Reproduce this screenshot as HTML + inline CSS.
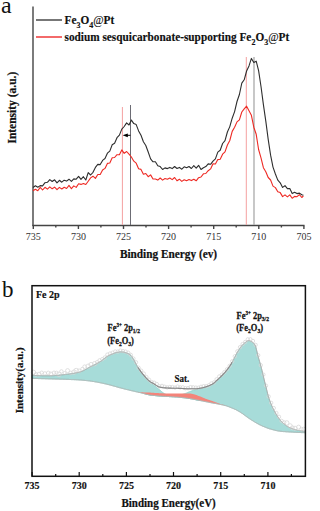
<!DOCTYPE html>
<html><head><meta charset="utf-8"><style>
html,body{margin:0;padding:0;background:#fff;}
svg{display:block;}
text{font-family:"Liberation Serif",serif;}
</style></head><body>
<svg width="312" height="511" viewBox="0 0 312 511">
<text x="1" y="12.5" font-size="24" fill="#111">a</text>
<text x="2" y="297" font-size="23" fill="#111">b</text>
<!-- panel a -->
<g stroke="#444" stroke-width="1.4" fill="none">
<line x1="33" y1="6.5" x2="33" y2="226"/>
<line x1="32.5" y1="225.5" x2="304.5" y2="225.5"/>
<line x1="33.3" y1="225.5" x2="33.3" y2="229" /><line x1="55.8" y1="225.5" x2="55.8" y2="227.5" /><line x1="78.4" y1="225.5" x2="78.4" y2="229" /><line x1="100.9" y1="225.5" x2="100.9" y2="227.5" /><line x1="123.5" y1="225.5" x2="123.5" y2="229" /><line x1="146.0" y1="225.5" x2="146.0" y2="227.5" /><line x1="168.6" y1="225.5" x2="168.6" y2="229" /><line x1="191.1" y1="225.5" x2="191.1" y2="227.5" /><line x1="213.7" y1="225.5" x2="213.7" y2="229" /><line x1="236.2" y1="225.5" x2="236.2" y2="227.5" /><line x1="258.8" y1="225.5" x2="258.8" y2="229" /><line x1="281.4" y1="225.5" x2="281.4" y2="227.5" /><line x1="303.9" y1="225.5" x2="303.9" y2="229" />
</g>
<g font-size="10" fill="#333" text-anchor="middle"><text x="33.3" y="240">735</text><text x="78.4" y="240">730</text><text x="123.5" y="240">725</text><text x="168.6" y="240">720</text><text x="213.7" y="240">715</text><text x="258.8" y="240">710</text><text x="303.9" y="240">705</text></g>
<line x1="122.4" y1="107" x2="122.4" y2="225" stroke="#f4a0a0" stroke-width="1"/>
<line x1="130.5" y1="105" x2="130.5" y2="225" stroke="#6c6c74" stroke-width="1"/>
<line x1="246.3" y1="57" x2="246.3" y2="225" stroke="#f4a0a0" stroke-width="1"/>
<line x1="254" y1="57" x2="254" y2="225" stroke="#aaa" stroke-width="1.3"/>
<path d="M33.0,190.8 L35.4,189.2 L37.8,190.7 L40.2,187.4 L42.6,190.0 L45.0,187.3 L47.4,189.1 L49.8,186.8 L52.2,188.8 L54.6,187.1 L57.0,189.7 L59.4,187.4 L61.8,189.0 L64.2,187.3 L66.6,188.5 L69.0,185.4 L71.4,188.7 L73.8,185.9 L76.2,187.4 L78.6,183.8 L81.0,184.4 L83.4,183.5 L85.8,184.5 L88.2,181.2 L90.6,177.9 L93.0,176.2 L95.4,178.4 L97.8,174.5 L100.2,174.4 L102.6,170.0 L105.0,168.4 L107.4,163.4 L109.8,163.0 L112.2,157.8 L114.6,157.5 L117.0,154.7 L119.4,154.7 L121.8,149.9 L124.2,153.4 L126.6,151.5 L129.0,154.1 L131.4,157.0 L133.8,161.2 L136.2,163.2 L138.6,168.8 L141.0,169.4 L143.4,174.2 L145.8,173.5 L148.2,176.7 L150.6,174.9 L153.0,179.0 L155.4,179.0 L157.8,180.1 L160.2,178.0 L162.6,180.1 L165.0,178.5 L167.4,179.3 L169.8,178.0 L172.2,179.6 L174.6,177.5 L177.0,180.8 L179.4,179.2 L181.8,181.4 L184.2,179.7 L186.6,180.7 L189.0,179.5 L191.4,180.6 L193.8,179.2 L196.2,180.8 L198.6,177.7 L201.0,177.0 L203.4,173.8 L205.8,173.5 L208.2,170.7 L210.6,168.9 L213.0,163.7 L215.4,164.0 L217.8,159.6 L220.2,159.3 L222.6,154.2 L225.0,151.9 L227.4,145.0 L229.8,140.5 L232.2,131.4 L234.6,127.3 L237.0,121.9 L239.4,119.8 L241.8,112.0 L244.2,108.9 L246.6,106.2 L249.0,110.7 L251.4,115.3 L253.8,127.2 L256.2,134.3 L258.6,149.5 L261.0,157.8 L263.4,167.7 L265.8,171.7 L268.2,177.5 L270.6,180.0 L273.0,186.1 L275.4,187.6 L277.8,191.7 L280.2,192.6 L282.6,196.6 L285.0,194.9 L287.4,196.9 L289.8,194.9 L292.2,198.2 L294.6,196.4 L297.0,196.7 L299.4,194.7 L301.8,197.5 L303.4,195.8" stroke="#ee2a24" stroke-width="1.1" fill="none" stroke-linejoin="round"/>
<path d="M33.0,187.5 L35.4,185.8 L37.8,187.2 L40.2,185.6 L42.6,185.9 L45.0,182.7 L47.4,182.3 L49.8,179.6 L52.2,181.5 L54.6,179.8 L57.0,182.8 L59.4,180.3 L61.8,182.2 L64.2,180.2 L66.6,181.1 L69.0,179.2 L71.4,181.3 L73.8,178.9 L76.2,179.2 L78.6,176.4 L81.0,179.4 L83.4,176.7 L85.8,180.0 L88.2,172.6 L90.6,175.0 L93.0,172.3 L95.4,167.4 L97.8,164.4 L100.2,164.6 L102.6,160.4 L105.0,158.5 L107.4,153.2 L109.8,151.1 L112.2,144.7 L114.6,143.3 L117.0,137.7 L119.4,135.1 L121.8,129.1 L124.2,126.5 L126.6,122.9 L129.0,125.0 L131.4,120.1 L133.8,123.6 L136.2,124.6 L138.6,130.9 L141.0,135.3 L143.4,141.7 L145.8,145.5 L148.2,152.0 L150.6,158.9 L153.0,161.8 L155.4,161.7 L157.8,165.7 L160.2,166.6 L162.6,169.5 L165.0,167.9 L167.4,168.6 L169.8,167.4 L172.2,168.6 L174.6,166.5 L177.0,168.5 L179.4,167.4 L181.8,169.2 L184.2,166.8 L186.6,167.8 L189.0,166.5 L191.4,168.5 L193.8,165.7 L196.2,168.1 L198.6,165.3 L201.0,169.5 L203.4,167.7 L205.8,166.6 L208.2,163.9 L210.6,164.3 L213.0,161.1 L215.4,158.9 L217.8,152.1 L220.2,150.3 L222.6,143.5 L225.0,140.7 L227.4,132.0 L229.8,126.6 L232.2,118.2 L234.6,111.6 L237.0,101.5 L239.4,94.5 L241.8,83.1 L244.2,79.8 L246.6,71.0 L249.0,65.9 L251.4,58.4 L253.8,62.6 L256.2,61.2 L258.6,70.7 L261.0,86.5 L263.4,104.6 L265.8,121.1 L268.2,139.4 L270.6,155.2 L273.0,167.1 L275.4,174.0 L277.8,180.1 L280.2,182.8 L282.6,187.4 L285.0,185.7 L287.4,188.6 L289.8,188.6 L292.2,193.6 L294.6,192.3 L297.0,193.6 L299.4,193.1 L301.8,194.8 L303.4,195.3" stroke="#2e2e2e" stroke-width="1.1" fill="none" stroke-linejoin="round"/>
<path d="M130.4,135.3 L127,135.3" stroke="#000" stroke-width="1"/>
<path d="M122.6,135.3 L127.8,133.4 L127.8,137.2Z" fill="#000"/>
<line x1="36" y1="20" x2="62" y2="20" stroke="#555" stroke-width="1.6"/>
<line x1="36" y1="37" x2="62" y2="37" stroke="#f04444" stroke-width="1.6"/>
<text transform="translate(64.5,24.3) scale(1,1.07)" font-size="11.3" font-weight="bold" fill="#111" stroke="#111" stroke-width="0.15">Fe<tspan font-size="8" dy="3">3</tspan><tspan dy="-3">O</tspan><tspan font-size="8" dy="3">4</tspan><tspan dy="-3" font-weight="normal">@</tspan>Pt</text>
<text transform="translate(64.5,41.3) scale(1,1.07)" font-size="11.3" font-weight="bold" fill="#111" stroke="#111" stroke-width="0.15">sodium sesquicarbonate-supporting Fe<tspan font-size="8" dy="3">2</tspan><tspan dy="-3">O</tspan><tspan font-size="8" dy="3">3</tspan><tspan dy="-3" font-weight="normal">@</tspan>Pt</text>
<text transform="translate(16,143.6) rotate(-90)" font-size="11.5" font-weight="bold" fill="#111" stroke="#111" stroke-width="0.2">Intensity (a.u.)</text>
<text transform="translate(168.5,258.1) scale(1,1.12)" font-size="11.3" font-weight="bold" fill="#111" stroke="#111" stroke-width="0.2" text-anchor="middle">Binding Energy (ev)</text>
<!-- panel b -->
<path d="M32.0,375.2 L32.5,375.2 L33.0,375.3 L33.5,375.3 L34.0,375.4 L34.5,375.4 L35.0,375.5 L35.5,375.5 L36.0,375.5 L36.5,375.5 L37.0,375.6 L37.5,375.6 L38.0,375.6 L38.5,375.6 L39.0,375.7 L39.5,375.7 L40.0,375.7 L40.5,375.7 L41.0,375.7 L41.5,375.7 L42.0,375.7 L42.5,375.8 L43.0,375.8 L43.5,375.8 L44.0,375.8 L44.5,375.8 L45.0,375.8 L45.5,375.8 L46.0,375.8 L46.5,375.8 L47.0,375.8 L47.5,375.8 L48.0,375.8 L48.5,375.8 L49.0,375.8 L49.5,375.8 L50.0,375.8 L50.5,375.8 L51.0,375.8 L51.5,375.8 L52.0,375.8 L52.5,375.7 L53.0,375.7 L53.5,375.7 L54.0,375.7 L54.5,375.6 L55.0,375.6 L55.5,375.5 L56.0,375.5 L56.5,375.5 L57.0,375.4 L57.5,375.4 L58.0,375.3 L58.5,375.3 L59.0,375.2 L59.5,375.1 L60.0,375.1 L60.5,375.0 L61.0,375.0 L61.5,374.9 L62.0,374.9 L62.5,374.8 L63.0,374.7 L63.5,374.7 L64.0,374.6 L64.5,374.6 L65.0,374.5 L65.5,374.4 L66.0,374.4 L66.5,374.3 L67.0,374.3 L67.5,374.2 L68.0,374.1 L68.5,374.1 L69.0,374.0 L69.5,374.0 L70.0,373.9 L70.5,373.8 L71.0,373.7 L71.5,373.7 L72.0,373.6 L72.5,373.5 L73.0,373.4 L73.5,373.4 L74.0,373.3 L74.5,373.2 L75.0,373.1 L75.5,373.0 L76.0,372.9 L76.5,372.8 L77.0,372.7 L77.5,372.6 L78.0,372.5 L78.5,372.4 L79.0,372.3 L79.5,372.1 L80.0,372.0 L80.5,371.9 L81.0,371.7 L81.5,371.5 L82.0,371.3 L82.5,371.1 L83.0,370.9 L83.5,370.6 L84.0,370.4 L84.5,370.1 L85.0,369.8 L85.5,369.5 L86.0,369.2 L86.5,369.0 L87.0,368.7 L87.5,368.4 L88.0,368.1 L88.5,367.8 L89.0,367.5 L89.5,367.3 L90.0,367.0 L90.5,366.7 L91.0,366.5 L91.5,366.2 L92.0,366.0 L92.5,365.8 L93.0,365.5 L93.5,365.3 L94.0,365.0 L94.5,364.8 L95.0,364.5 L95.5,364.3 L96.0,364.0 L96.5,363.8 L97.0,363.5 L97.5,363.2 L98.0,363.0 L98.5,362.7 L99.0,362.4 L99.5,362.1 L100.0,361.8 L100.5,361.5 L101.0,361.1 L101.5,360.8 L102.0,360.4 L102.5,360.0 L103.0,359.6 L103.5,359.2 L104.0,358.8 L104.5,358.4 L105.0,358.0 L105.5,357.7 L106.0,357.3 L106.5,356.9 L107.0,356.6 L107.5,356.3 L108.0,356.0 L108.5,355.7 L109.0,355.5 L109.5,355.3 L110.0,355.0 L110.5,354.8 L111.0,354.6 L111.5,354.4 L112.0,354.2 L112.5,354.0 L113.0,353.8 L113.5,353.6 L114.0,353.4 L114.5,353.2 L115.0,353.0 L115.5,352.8 L116.0,352.6 L116.5,352.5 L117.0,352.4 L117.5,352.3 L118.0,352.2 L118.5,352.2 L119.0,352.1 L119.5,352.0 L120.0,352.0 L120.5,351.9 L121.0,351.9 L121.5,351.9 L122.0,351.9 L122.5,352.0 L123.0,352.0 L123.5,352.1 L124.0,352.2 L124.5,352.4 L125.0,352.5 L125.5,352.7 L126.0,352.8 L126.5,353.0 L127.0,353.1 L127.5,353.3 L128.0,353.6 L128.5,353.8 L129.0,354.1 L129.5,354.4 L130.0,354.8 L130.5,355.1 L131.0,355.5 L131.5,356.0 L132.0,356.7 L132.5,357.6 L133.0,358.5 L133.5,359.3 L134.0,360.2 L134.5,361.1 L135.0,362.1 L135.5,363.0 L136.0,364.0 L136.5,364.9 L137.0,365.8 L137.5,366.7 L138.0,367.5 L138.5,368.3 L139.0,369.0 L139.5,369.7 L140.0,370.4 L140.5,371.1 L141.0,371.8 L141.5,372.4 L142.0,373.1 L142.5,373.7 L143.0,374.3 L143.5,374.9 L144.0,375.5 L144.5,376.1 L145.0,376.7 L145.5,377.2 L146.0,377.8 L146.5,378.3 L147.0,378.8 L147.5,379.4 L148.0,379.9 L148.5,380.5 L149.0,381.0 L149.5,381.5 L150.0,382.0 L150.5,382.4 L151.0,382.9 L151.5,383.3 L152.0,383.7 L152.5,384.1 L153.0,384.5 L153.5,384.9 L154.0,385.3 L154.5,385.7 L155.0,386.1 L155.5,386.5 L156.0,386.9 L156.5,387.3 L157.0,387.7 L157.5,388.1 L158.0,388.5 L158.5,388.9 L159.0,389.3 L159.5,389.7 L160.0,390.1 L160.5,390.6 L161.0,391.0 L161.5,391.5 L162.0,391.9 L162.5,392.3 L163.0,392.7 L163.5,393.0 L164.0,393.3 L164.5,393.6 L165.0,393.9 L165.5,394.1 L166.0,394.4 L166.5,394.6 L167.0,394.8 L167.5,395.1 L168.0,395.3 L168.5,395.4 L169.0,395.6 L169.5,395.7 L170.0,395.8 L170.5,395.9 L171.0,396.0 L171.5,396.0 L172.0,396.1 L172.5,396.1 L173.0,396.2 L173.5,396.2 L174.0,396.3 L174.5,396.3 L175.0,396.4 L175.5,396.4 L176.0,396.4 L176.5,396.5 L177.0,396.5 L177.5,396.5 L178.0,396.6 L178.5,396.6 L179.0,396.7 L179.5,396.7 L180.0,396.8 L180.5,396.9 L181.0,396.9 L181.5,397.0 L182.0,397.1 L182.5,397.2 L183.0,397.2 L183.5,397.3 L184.0,397.4 L184.5,397.5 L185.0,397.6 L185.5,397.7 L186.0,397.8 L186.5,397.9 L187.0,398.0 L187.5,398.1 L188.0,398.2 L188.5,398.3 L189.0,398.4 L189.5,398.5 L190.0,398.6 L190.5,398.7 L191.0,398.8 L191.5,398.8 L192.0,398.9 L192.5,399.0 L193.0,399.1 L193.5,399.2 L194.0,399.3 L194.5,399.4 L195.0,399.5 L195.5,399.6 L196.0,399.7 L196.5,399.8 L197.0,399.9 L197.5,400.0 L198.0,400.1 L198.5,400.2 L199.0,400.3 L199.5,400.4 L200.0,400.5 L200.0,400.5 L199.5,400.4 L199.0,400.3 L198.5,400.2 L198.0,400.1 L197.5,400.0 L197.0,399.9 L196.5,399.8 L196.0,399.7 L195.5,399.6 L195.0,399.5 L194.5,399.4 L194.0,399.3 L193.5,399.2 L193.0,399.1 L192.5,399.0 L192.0,398.9 L191.5,398.8 L191.0,398.8 L190.5,398.7 L190.0,398.6 L189.5,398.5 L189.0,398.4 L188.5,398.4 L188.0,398.3 L187.5,398.2 L187.0,398.1 L186.5,398.1 L186.0,398.0 L185.5,397.9 L185.0,397.9 L184.5,397.8 L184.0,397.7 L183.5,397.7 L183.0,397.6 L182.5,397.6 L182.0,397.5 L181.5,397.4 L181.0,397.4 L180.5,397.3 L180.0,397.3 L179.5,397.3 L179.0,397.2 L178.5,397.2 L178.0,397.1 L177.5,397.1 L177.0,397.1 L176.5,397.0 L176.0,397.0 L175.5,397.0 L175.0,396.9 L174.5,396.9 L174.0,396.9 L173.5,396.8 L173.0,396.8 L172.5,396.8 L172.0,396.7 L171.5,396.7 L171.0,396.7 L170.5,396.6 L170.0,396.6 L169.5,396.6 L169.0,396.5 L168.5,396.5 L168.0,396.5 L167.5,396.5 L167.0,396.4 L166.5,396.4 L166.0,396.4 L165.5,396.3 L165.0,396.3 L164.5,396.3 L164.0,396.3 L163.5,396.2 L163.0,396.2 L162.5,396.2 L162.0,396.1 L161.5,396.1 L161.0,396.1 L160.5,396.0 L160.0,396.0 L159.5,396.0 L159.0,395.9 L158.5,395.9 L158.0,395.8 L157.5,395.8 L157.0,395.8 L156.5,395.7 L156.0,395.7 L155.5,395.6 L155.0,395.6 L154.5,395.5 L154.0,395.5 L153.5,395.4 L153.0,395.4 L152.5,395.3 L152.0,395.3 L151.5,395.2 L151.0,395.1 L150.5,395.1 L150.0,395.0 L149.5,394.9 L149.0,394.8 L148.5,394.7 L148.0,394.6 L147.5,394.5 L147.0,394.4 L146.5,394.3 L146.0,394.2 L145.5,394.0 L145.0,393.9 L144.5,393.8 L144.0,393.6 L143.5,393.5 L143.0,393.4 L142.5,393.2 L142.0,393.1 L141.5,393.0 L141.0,392.8 L140.5,392.7 L140.0,392.6 L139.5,392.5 L139.0,392.4 L138.5,392.3 L138.0,392.1 L137.5,392.0 L137.0,391.9 L136.5,391.8 L136.0,391.7 L135.5,391.6 L135.0,391.5 L134.5,391.3 L134.0,391.2 L133.5,391.1 L133.0,391.0 L132.5,390.9 L132.0,390.8 L131.5,390.7 L131.0,390.5 L130.5,390.4 L130.0,390.3 L129.5,390.2 L129.0,390.1 L128.5,389.9 L128.0,389.8 L127.5,389.7 L127.0,389.6 L126.5,389.5 L126.0,389.3 L125.5,389.2 L125.0,389.1 L124.5,389.0 L124.0,388.8 L123.5,388.7 L123.0,388.6 L122.5,388.4 L122.0,388.3 L121.5,388.2 L121.0,388.1 L120.5,387.9 L120.0,387.8 L119.5,387.7 L119.0,387.5 L118.5,387.4 L118.0,387.3 L117.5,387.1 L117.0,387.0 L116.5,386.8 L116.0,386.7 L115.5,386.5 L115.0,386.4 L114.5,386.2 L114.0,386.1 L113.5,386.0 L113.0,385.8 L112.5,385.7 L112.0,385.5 L111.5,385.4 L111.0,385.3 L110.5,385.1 L110.0,385.0 L109.5,384.9 L109.0,384.7 L108.5,384.6 L108.0,384.5 L107.5,384.4 L107.0,384.3 L106.5,384.1 L106.0,384.0 L105.5,383.9 L105.0,383.8 L104.5,383.7 L104.0,383.5 L103.5,383.4 L103.0,383.3 L102.5,383.2 L102.0,383.1 L101.5,383.0 L101.0,382.9 L100.5,382.8 L100.0,382.7 L99.5,382.6 L99.0,382.5 L98.5,382.4 L98.0,382.3 L97.5,382.2 L97.0,382.1 L96.5,382.0 L96.0,381.9 L95.5,381.9 L95.0,381.8 L94.5,381.7 L94.0,381.6 L93.5,381.5 L93.0,381.4 L92.5,381.4 L92.0,381.3 L91.5,381.2 L91.0,381.1 L90.5,381.1 L90.0,381.0 L89.5,380.9 L89.0,380.9 L88.5,380.8 L88.0,380.8 L87.5,380.7 L87.0,380.6 L86.5,380.6 L86.0,380.5 L85.5,380.5 L85.0,380.4 L84.5,380.4 L84.0,380.3 L83.5,380.3 L83.0,380.2 L82.5,380.2 L82.0,380.1 L81.5,380.1 L81.0,380.1 L80.5,380.0 L80.0,380.0 L79.5,380.0 L79.0,379.9 L78.5,379.9 L78.0,379.9 L77.5,379.8 L77.0,379.8 L76.5,379.8 L76.0,379.8 L75.5,379.7 L75.0,379.7 L74.5,379.7 L74.0,379.7 L73.5,379.6 L73.0,379.6 L72.5,379.6 L72.0,379.6 L71.5,379.6 L71.0,379.5 L70.5,379.5 L70.0,379.5 L69.5,379.5 L69.0,379.5 L68.5,379.4 L68.0,379.4 L67.5,379.4 L67.0,379.4 L66.5,379.4 L66.0,379.4 L65.5,379.3 L65.0,379.3 L64.5,379.3 L64.0,379.3 L63.5,379.3 L63.0,379.3 L62.5,379.2 L62.0,379.2 L61.5,379.2 L61.0,379.2 L60.5,379.2 L60.0,379.2 L59.5,379.2 L59.0,379.1 L58.5,379.1 L58.0,379.1 L57.5,379.1 L57.0,379.1 L56.5,379.1 L56.0,379.1 L55.5,379.1 L55.0,379.0 L54.5,379.0 L54.0,379.0 L53.5,379.0 L53.0,379.0 L52.5,379.0 L52.0,379.0 L51.5,378.9 L51.0,378.9 L50.5,378.9 L50.0,378.9 L49.5,378.9 L49.0,378.9 L48.5,378.9 L48.0,378.8 L47.5,378.8 L47.0,378.8 L46.5,378.8 L46.0,378.8 L45.5,378.8 L45.0,378.8 L44.5,378.7 L44.0,378.7 L43.5,378.7 L43.0,378.7 L42.5,378.7 L42.0,378.7 L41.5,378.7 L41.0,378.6 L40.5,378.6 L40.0,378.6 L39.5,378.6 L39.0,378.6 L38.5,378.6 L38.0,378.6 L37.5,378.5 L37.0,378.5 L36.5,378.5 L36.0,378.5 L35.5,378.5 L35.0,378.5 L34.5,378.5 L34.0,378.5 L33.5,378.4 L33.0,378.4 L32.5,378.4 L32.0,378.4 Z" fill="#a7dcd9" stroke="#8ccfc8" stroke-width="0.8"/>
<path d="M145.0,393.5 L145.5,393.7 L146.0,393.8 L146.5,394.0 L147.0,394.2 L147.5,394.3 L148.0,394.5 L148.5,394.6 L149.0,394.7 L149.5,394.9 L150.0,395.0 L150.5,395.1 L151.0,395.1 L151.5,395.2 L152.0,395.3 L152.5,395.3 L153.0,395.4 L153.5,395.4 L154.0,395.5 L154.5,395.5 L155.0,395.6 L155.5,395.6 L156.0,395.7 L156.5,395.7 L157.0,395.8 L157.5,395.8 L158.0,395.8 L158.5,395.9 L159.0,395.9 L159.5,396.0 L160.0,396.0 L160.5,396.0 L161.0,396.1 L161.5,396.1 L162.0,396.1 L162.5,396.2 L163.0,396.2 L163.5,396.2 L164.0,396.3 L164.5,396.3 L165.0,396.3 L165.5,396.3 L166.0,396.4 L166.5,396.4 L167.0,396.4 L167.5,396.5 L168.0,396.5 L168.5,396.5 L169.0,396.5 L169.5,396.6 L170.0,396.6 L170.5,396.6 L171.0,396.6 L171.5,396.5 L172.0,396.5 L172.5,396.5 L173.0,396.4 L173.5,396.3 L174.0,396.2 L174.5,396.2 L175.0,396.1 L175.5,396.0 L176.0,395.9 L176.5,395.8 L177.0,395.7 L177.5,395.6 L178.0,395.4 L178.5,395.3 L179.0,395.2 L179.5,395.1 L180.0,395.0 L180.5,394.9 L181.0,394.8 L181.5,394.6 L182.0,394.5 L182.5,394.4 L183.0,394.2 L183.5,394.0 L184.0,393.9 L184.5,393.7 L185.0,393.5 L185.5,393.4 L186.0,393.2 L186.5,393.0 L187.0,392.8 L187.5,392.6 L188.0,392.4 L188.5,392.1 L189.0,391.9 L189.5,391.7 L190.0,391.5 L190.5,391.3 L191.0,391.1 L191.5,390.9 L192.0,390.7 L192.5,390.6 L193.0,390.4 L193.5,390.2 L194.0,390.1 L194.5,389.9 L195.0,389.8 L195.5,389.7 L196.0,389.6 L196.5,389.5 L197.0,389.4 L197.5,389.3 L198.0,389.2 L198.5,389.1 L199.0,389.0 L199.5,388.9 L200.0,388.8 L200.5,388.7 L201.0,388.6 L201.5,388.5 L202.0,388.4 L202.5,388.2 L203.0,388.1 L203.5,388.0 L204.0,387.9 L204.5,387.7 L205.0,387.6 L205.5,387.5 L206.0,387.3 L206.5,387.1 L207.0,387.0 L207.5,386.8 L208.0,386.6 L208.5,386.4 L209.0,386.2 L209.5,386.0 L210.0,385.8 L210.5,385.5 L211.0,385.3 L211.5,385.0 L212.0,384.8 L212.5,384.5 L213.0,384.2 L213.5,383.8 L214.0,383.5 L214.5,383.1 L215.0,382.6 L215.5,382.2 L216.0,381.7 L216.5,381.2 L217.0,380.7 L217.5,380.3 L218.0,379.8 L218.5,379.3 L219.0,378.9 L219.5,378.4 L220.0,378.0 L220.5,377.5 L221.0,377.0 L221.5,376.5 L222.0,376.0 L222.5,375.5 L223.0,375.0 L223.5,374.5 L224.0,373.9 L224.5,373.3 L225.0,372.8 L225.5,372.2 L226.0,371.6 L226.5,371.0 L227.0,370.4 L227.5,369.7 L228.0,369.1 L228.5,368.4 L229.0,367.7 L229.5,367.0 L230.0,366.2 L230.5,365.4 L231.0,364.6 L231.5,363.7 L232.0,362.8 L232.5,361.9 L233.0,361.0 L233.5,360.1 L234.0,359.1 L234.5,358.1 L235.0,357.1 L235.5,356.1 L236.0,355.1 L236.5,354.2 L237.0,353.3 L237.5,352.4 L238.0,351.6 L238.5,350.7 L239.0,350.0 L239.5,349.2 L240.0,348.5 L240.5,347.8 L241.0,347.2 L241.5,346.5 L242.0,345.9 L242.5,345.4 L243.0,344.8 L243.5,344.3 L244.0,343.9 L244.5,343.5 L245.0,343.1 L245.5,342.6 L246.0,342.2 L246.5,341.9 L247.0,341.6 L247.5,341.3 L248.0,341.2 L248.5,341.1 L249.0,341.1 L249.5,341.2 L250.0,341.4 L250.5,341.6 L251.0,341.8 L251.5,342.0 L252.0,342.3 L252.5,342.6 L253.0,343.0 L253.5,343.5 L254.0,344.1 L254.5,344.7 L255.0,345.5 L255.5,346.6 L256.0,348.3 L256.5,350.3 L257.0,352.4 L257.5,354.6 L258.0,356.5 L258.5,358.3 L259.0,360.0 L259.5,361.7 L260.0,363.5 L260.5,365.3 L261.0,367.2 L261.5,369.0 L262.0,371.0 L262.5,373.1 L263.0,375.2 L263.5,377.4 L264.0,379.5 L264.5,381.5 L265.0,383.6 L265.5,385.5 L266.0,387.5 L266.5,389.5 L267.0,391.6 L267.5,393.6 L268.0,395.6 L268.5,397.4 L269.0,399.0 L269.5,400.4 L270.0,401.8 L270.5,403.1 L271.0,404.4 L271.5,405.6 L272.0,406.7 L272.5,407.8 L273.0,408.8 L273.5,409.8 L274.0,410.8 L274.5,411.7 L275.0,412.6 L275.5,413.5 L276.0,414.3 L276.5,415.2 L277.0,416.0 L277.5,416.8 L278.0,417.6 L278.5,418.3 L279.0,419.0 L279.5,419.7 L280.0,420.3 L280.5,420.9 L281.0,421.5 L281.5,422.0 L282.0,422.5 L282.5,423.0 L283.0,423.4 L283.5,423.9 L284.0,424.3 L284.5,424.7 L285.0,425.1 L285.5,425.5 L286.0,425.9 L286.5,426.3 L287.0,426.6 L287.5,426.9 L288.0,427.2 L288.5,427.5 L289.0,427.8 L289.5,428.0 L290.0,428.3 L290.5,428.5 L291.0,428.7 L291.5,428.9 L292.0,429.1 L292.5,429.2 L293.0,429.4 L293.5,429.6 L294.0,429.7 L294.5,429.9 L295.0,430.0 L295.5,430.2 L296.0,430.3 L296.5,430.4 L297.0,430.6 L297.5,430.7 L298.0,430.8 L298.5,430.9 L299.0,431.0 L299.5,431.1 L300.0,431.2 L300.5,431.3 L301.0,431.3 L301.5,431.4 L302.0,431.5 L302.5,431.6 L303.0,431.6 L303.5,431.7 L304.0,431.8 L304.5,431.8 L305.0,431.9 L305.5,431.9 L305.5,432.7 L305.0,432.7 L304.5,432.7 L304.0,432.7 L303.5,432.6 L303.0,432.6 L302.5,432.6 L302.0,432.6 L301.5,432.6 L301.0,432.6 L300.5,432.5 L300.0,432.5 L299.5,432.5 L299.0,432.5 L298.5,432.5 L298.0,432.4 L297.5,432.4 L297.0,432.4 L296.5,432.4 L296.0,432.3 L295.5,432.3 L295.0,432.3 L294.5,432.3 L294.0,432.2 L293.5,432.2 L293.0,432.2 L292.5,432.1 L292.0,432.1 L291.5,432.1 L291.0,432.1 L290.5,432.0 L290.0,432.0 L289.5,432.0 L289.0,431.9 L288.5,431.9 L288.0,431.9 L287.5,431.8 L287.0,431.8 L286.5,431.8 L286.0,431.7 L285.5,431.7 L285.0,431.7 L284.5,431.6 L284.0,431.6 L283.5,431.6 L283.0,431.5 L282.5,431.5 L282.0,431.4 L281.5,431.4 L281.0,431.3 L280.5,431.3 L280.0,431.2 L279.5,431.1 L279.0,431.1 L278.5,431.0 L278.0,430.9 L277.5,430.8 L277.0,430.7 L276.5,430.6 L276.0,430.5 L275.5,430.4 L275.0,430.3 L274.5,430.1 L274.0,430.0 L273.5,429.9 L273.0,429.8 L272.5,429.6 L272.0,429.5 L271.5,429.3 L271.0,429.2 L270.5,429.0 L270.0,428.9 L269.5,428.8 L269.0,428.6 L268.5,428.4 L268.0,428.3 L267.5,428.1 L267.0,427.9 L266.5,427.7 L266.0,427.5 L265.5,427.3 L265.0,427.1 L264.5,426.9 L264.0,426.7 L263.5,426.5 L263.0,426.3 L262.5,426.1 L262.0,425.8 L261.5,425.6 L261.0,425.4 L260.5,425.1 L260.0,424.9 L259.5,424.7 L259.0,424.4 L258.5,424.1 L258.0,423.9 L257.5,423.6 L257.0,423.3 L256.5,423.0 L256.0,422.8 L255.5,422.5 L255.0,422.2 L254.5,421.8 L254.0,421.5 L253.5,421.2 L253.0,420.9 L252.5,420.6 L252.0,420.3 L251.5,420.0 L251.0,419.6 L250.5,419.3 L250.0,419.0 L249.5,418.7 L249.0,418.3 L248.5,418.0 L248.0,417.6 L247.5,417.3 L247.0,416.9 L246.5,416.6 L246.0,416.2 L245.5,415.8 L245.0,415.5 L244.5,415.1 L244.0,414.7 L243.5,414.4 L243.0,414.0 L242.5,413.6 L242.0,413.3 L241.5,413.0 L241.0,412.6 L240.5,412.3 L240.0,412.0 L239.5,411.7 L239.0,411.4 L238.5,411.1 L238.0,410.8 L237.5,410.6 L237.0,410.3 L236.5,410.0 L236.0,409.8 L235.5,409.5 L235.0,409.3 L234.5,409.1 L234.0,408.8 L233.5,408.6 L233.0,408.4 L232.5,408.2 L232.0,408.0 L231.5,407.8 L231.0,407.6 L230.5,407.4 L230.0,407.2 L229.5,407.0 L229.0,406.8 L228.5,406.6 L228.0,406.4 L227.5,406.3 L227.0,406.1 L226.5,405.9 L226.0,405.8 L225.5,405.6 L225.0,405.5 L224.5,405.4 L224.0,405.2 L223.5,405.1 L223.0,405.0 L222.5,404.9 L222.0,404.8 L221.5,404.7 L221.0,404.6 L220.5,404.5 L220.0,404.3 L219.5,404.3 L219.0,404.2 L218.5,404.1 L218.0,404.0 L217.5,403.9 L217.0,403.8 L216.5,403.7 L216.0,403.6 L215.5,403.5 L215.0,403.4 L214.5,403.3 L214.0,403.2 L213.5,403.2 L213.0,403.1 L212.5,403.0 L212.0,402.9 L211.5,402.8 L211.0,402.7 L210.5,402.6 L210.0,402.5 L209.5,402.4 L209.0,402.3 L208.5,402.2 L208.0,402.1 L207.5,402.0 L207.0,401.9 L206.5,401.8 L206.0,401.7 L205.5,401.6 L205.0,401.5 L204.5,401.4 L204.0,401.3 L203.5,401.2 L203.0,401.1 L202.5,401.0 L202.0,400.9 L201.5,400.8 L201.0,400.7 L200.5,400.6 L200.0,400.5 L199.5,400.4 L199.0,400.3 L198.5,400.2 L198.0,400.1 L197.5,400.0 L197.0,399.9 L196.5,399.8 L196.0,399.7 L195.5,399.6 L195.0,399.5 L194.5,399.4 L194.0,399.3 L193.5,399.2 L193.0,399.1 L192.5,399.0 L192.0,398.9 L191.5,398.8 L191.0,398.8 L190.5,398.7 L190.0,398.6 L189.5,398.5 L189.0,398.4 L188.5,398.4 L188.0,398.3 L187.5,398.2 L187.0,398.1 L186.5,398.1 L186.0,398.0 L185.5,397.9 L185.0,397.9 L184.5,397.8 L184.0,397.7 L183.5,397.7 L183.0,397.6 L182.5,397.6 L182.0,397.5 L181.5,397.4 L181.0,397.4 L180.5,397.3 L180.0,397.3 L179.5,397.3 L179.0,397.2 L178.5,397.2 L178.0,397.1 L177.5,397.1 L177.0,397.1 L176.5,397.0 L176.0,397.0 L175.5,397.0 L175.0,396.9 L174.5,396.9 L174.0,396.9 L173.5,396.8 L173.0,396.8 L172.5,396.8 L172.0,396.7 L171.5,396.7 L171.0,396.7 L170.5,396.6 L170.0,396.6 L169.5,396.6 L169.0,396.5 L168.5,396.5 L168.0,396.5 L167.5,396.5 L167.0,396.4 L166.5,396.4 L166.0,396.4 L165.5,396.3 L165.0,396.3 L164.5,396.3 L164.0,396.3 L163.5,396.2 L163.0,396.2 L162.5,396.2 L162.0,396.1 L161.5,396.1 L161.0,396.1 L160.5,396.0 L160.0,396.0 L159.5,396.0 L159.0,395.9 L158.5,395.9 L158.0,395.8 L157.5,395.8 L157.0,395.8 L156.5,395.7 L156.0,395.7 L155.5,395.6 L155.0,395.6 L154.5,395.5 L154.0,395.5 L153.5,395.4 L153.0,395.4 L152.5,395.3 L152.0,395.3 L151.5,395.2 L151.0,395.1 L150.5,395.1 L150.0,395.0 L149.5,394.9 L149.0,394.8 L148.5,394.7 L148.0,394.6 L147.5,394.5 L147.0,394.4 L146.5,394.3 L146.0,394.2 L145.5,394.0 L145.0,393.9 Z" fill="#a7dcd9" stroke="#8ccfc8" stroke-width="0.8"/>
<path d="M128.0,389.8 L128.5,389.9 L129.0,390.1 L129.5,390.2 L130.0,390.3 L130.5,390.4 L131.0,390.5 L131.5,390.7 L132.0,390.8 L132.5,390.9 L133.0,391.0 L133.5,391.1 L134.0,391.2 L134.5,391.3 L135.0,391.5 L135.5,391.6 L136.0,391.7 L136.5,391.8 L137.0,391.9 L137.5,392.0 L138.0,392.0 L138.5,392.1 L139.0,392.1 L139.5,392.2 L140.0,392.2 L140.5,392.2 L141.0,392.3 L141.5,392.3 L142.0,392.3 L142.5,392.3 L143.0,392.3 L143.5,392.4 L144.0,392.4 L144.5,392.4 L145.0,392.4 L145.5,392.4 L146.0,392.4 L146.5,392.5 L147.0,392.5 L147.5,392.5 L148.0,392.5 L148.5,392.5 L149.0,392.6 L149.5,392.6 L150.0,392.6 L150.5,392.6 L151.0,392.7 L151.5,392.7 L152.0,392.7 L152.5,392.7 L153.0,392.8 L153.5,392.8 L154.0,392.8 L154.5,392.9 L155.0,392.9 L155.5,392.9 L156.0,393.0 L156.5,393.0 L157.0,393.0 L157.5,393.1 L158.0,393.1 L158.5,393.1 L159.0,393.2 L159.5,393.2 L160.0,393.2 L160.5,393.2 L161.0,393.2 L161.5,393.3 L162.0,393.3 L162.5,393.3 L163.0,393.3 L163.5,393.3 L164.0,393.4 L164.5,393.4 L165.0,393.4 L165.5,393.4 L166.0,393.4 L166.5,393.4 L167.0,393.5 L167.5,393.5 L168.0,393.5 L168.5,393.5 L169.0,393.5 L169.5,393.5 L170.0,393.5 L170.5,393.5 L171.0,393.5 L171.5,393.5 L172.0,393.5 L172.5,393.5 L173.0,393.5 L173.5,393.5 L174.0,393.5 L174.5,393.5 L175.0,393.4 L175.5,393.4 L176.0,393.4 L176.5,393.4 L177.0,393.4 L177.5,393.4 L178.0,393.4 L178.5,393.4 L179.0,393.4 L179.5,393.4 L180.0,393.4 L180.5,393.4 L181.0,393.4 L181.5,393.4 L182.0,393.4 L182.5,393.4 L183.0,393.4 L183.5,393.4 L184.0,393.4 L184.5,393.4 L185.0,393.5 L185.5,393.5 L186.0,393.5 L186.5,393.5 L187.0,393.5 L187.5,393.5 L188.0,393.5 L188.5,393.5 L189.0,393.6 L189.5,393.6 L190.0,393.6 L190.5,393.6 L191.0,393.7 L191.5,393.7 L192.0,393.8 L192.5,393.9 L193.0,394.0 L193.5,394.2 L194.0,394.3 L194.5,394.5 L195.0,394.6 L195.5,394.8 L196.0,395.0 L196.5,395.1 L197.0,395.3 L197.5,395.5 L198.0,395.7 L198.5,395.9 L199.0,396.0 L199.5,396.2 L200.0,396.4 L200.5,396.6 L201.0,396.8 L201.5,397.0 L202.0,397.2 L202.5,397.4 L203.0,397.6 L203.5,397.9 L204.0,398.1 L204.5,398.3 L205.0,398.5 L205.5,398.7 L206.0,398.9 L206.5,399.1 L207.0,399.2 L207.5,399.4 L208.0,399.6 L208.5,399.8 L209.0,399.9 L209.5,400.1 L210.0,400.3 L210.5,400.5 L211.0,400.6 L211.5,400.8 L212.0,401.0 L212.5,401.1 L213.0,401.3 L213.5,401.5 L214.0,401.7 L214.5,401.8 L215.0,402.0 L215.5,402.2 L216.0,402.4 L216.5,402.5 L217.0,402.7 L217.5,402.9 L218.0,403.1 L218.5,403.3 L219.0,403.5 L219.5,403.7 L220.0,403.9 L220.5,404.0 L221.0,404.2 L221.5,404.4 L222.0,404.5 L222.5,404.6 L223.0,404.8 L223.5,404.9 L224.0,405.0 L224.5,405.2 L225.0,405.3 L225.5,405.4 L226.0,405.5 L226.0,405.8 L225.5,405.6 L225.0,405.5 L224.5,405.4 L224.0,405.2 L223.5,405.1 L223.0,405.0 L222.5,404.9 L222.0,404.8 L221.5,404.7 L221.0,404.6 L220.5,404.5 L220.0,404.3 L219.5,404.3 L219.0,404.2 L218.5,404.1 L218.0,404.0 L217.5,403.9 L217.0,403.8 L216.5,403.7 L216.0,403.6 L215.5,403.5 L215.0,403.4 L214.5,403.3 L214.0,403.2 L213.5,403.2 L213.0,403.1 L212.5,403.0 L212.0,402.9 L211.5,402.8 L211.0,402.7 L210.5,402.6 L210.0,402.5 L209.5,402.4 L209.0,402.3 L208.5,402.2 L208.0,402.1 L207.5,402.0 L207.0,401.9 L206.5,401.8 L206.0,401.7 L205.5,401.6 L205.0,401.5 L204.5,401.4 L204.0,401.3 L203.5,401.2 L203.0,401.1 L202.5,401.0 L202.0,400.9 L201.5,400.8 L201.0,400.7 L200.5,400.6 L200.0,400.5 L199.5,400.4 L199.0,400.3 L198.5,400.2 L198.0,400.1 L197.5,400.0 L197.0,399.9 L196.5,399.8 L196.0,399.7 L195.5,399.6 L195.0,399.5 L194.5,399.4 L194.0,399.3 L193.5,399.2 L193.0,399.1 L192.5,399.0 L192.0,398.9 L191.5,398.8 L191.0,398.8 L190.5,398.7 L190.0,398.6 L189.5,398.5 L189.0,398.4 L188.5,398.4 L188.0,398.3 L187.5,398.2 L187.0,398.1 L186.5,398.1 L186.0,398.0 L185.5,397.9 L185.0,397.9 L184.5,397.8 L184.0,397.7 L183.5,397.7 L183.0,397.6 L182.5,397.6 L182.0,397.5 L181.5,397.4 L181.0,397.4 L180.5,397.3 L180.0,397.3 L179.5,397.3 L179.0,397.2 L178.5,397.2 L178.0,397.1 L177.5,397.1 L177.0,397.1 L176.5,397.0 L176.0,397.0 L175.5,397.0 L175.0,396.9 L174.5,396.9 L174.0,396.9 L173.5,396.8 L173.0,396.8 L172.5,396.8 L172.0,396.7 L171.5,396.7 L171.0,396.7 L170.5,396.6 L170.0,396.6 L169.5,396.6 L169.0,396.5 L168.5,396.5 L168.0,396.5 L167.5,396.5 L167.0,396.4 L166.5,396.4 L166.0,396.4 L165.5,396.3 L165.0,396.3 L164.5,396.3 L164.0,396.3 L163.5,396.2 L163.0,396.2 L162.5,396.2 L162.0,396.1 L161.5,396.1 L161.0,396.1 L160.5,396.0 L160.0,396.0 L159.5,396.0 L159.0,395.9 L158.5,395.9 L158.0,395.8 L157.5,395.8 L157.0,395.8 L156.5,395.7 L156.0,395.7 L155.5,395.6 L155.0,395.6 L154.5,395.5 L154.0,395.5 L153.5,395.4 L153.0,395.4 L152.5,395.3 L152.0,395.3 L151.5,395.2 L151.0,395.1 L150.5,395.1 L150.0,395.0 L149.5,394.9 L149.0,394.8 L148.5,394.7 L148.0,394.6 L147.5,394.5 L147.0,394.4 L146.5,394.3 L146.0,394.2 L145.5,394.0 L145.0,393.9 L144.5,393.8 L144.0,393.6 L143.5,393.5 L143.0,393.4 L142.5,393.2 L142.0,393.1 L141.5,393.0 L141.0,392.8 L140.5,392.7 L140.0,392.6 L139.5,392.5 L139.0,392.4 L138.5,392.3 L138.0,392.1 L137.5,392.0 L137.0,391.9 L136.5,391.8 L136.0,391.7 L135.5,391.6 L135.0,391.5 L134.5,391.3 L134.0,391.2 L133.5,391.1 L133.0,391.0 L132.5,390.9 L132.0,390.8 L131.5,390.7 L131.0,390.5 L130.5,390.4 L130.0,390.3 L129.5,390.2 L129.0,390.1 L128.5,389.9 L128.0,389.8 Z" fill="#f3847a"/>
<path d="M32.0,378.4 L32.5,378.4 L33.0,378.4 L33.5,378.4 L34.0,378.5 L34.5,378.5 L35.0,378.5 L35.5,378.5 L36.0,378.5 L36.5,378.5 L37.0,378.5 L37.5,378.5 L38.0,378.6 L38.5,378.6 L39.0,378.6 L39.5,378.6 L40.0,378.6 L40.5,378.6 L41.0,378.6 L41.5,378.7 L42.0,378.7 L42.5,378.7 L43.0,378.7 L43.5,378.7 L44.0,378.7 L44.5,378.7 L45.0,378.8 L45.5,378.8 L46.0,378.8 L46.5,378.8 L47.0,378.8 L47.5,378.8 L48.0,378.8 L48.5,378.9 L49.0,378.9 L49.5,378.9 L50.0,378.9 L50.5,378.9 L51.0,378.9 L51.5,378.9 L52.0,379.0 L52.5,379.0 L53.0,379.0 L53.5,379.0 L54.0,379.0 L54.5,379.0 L55.0,379.0 L55.5,379.1 L56.0,379.1 L56.5,379.1 L57.0,379.1 L57.5,379.1 L58.0,379.1 L58.5,379.1 L59.0,379.1 L59.5,379.2 L60.0,379.2 L60.5,379.2 L61.0,379.2 L61.5,379.2 L62.0,379.2 L62.5,379.2 L63.0,379.3 L63.5,379.3 L64.0,379.3 L64.5,379.3 L65.0,379.3 L65.5,379.3 L66.0,379.4 L66.5,379.4 L67.0,379.4 L67.5,379.4 L68.0,379.4 L68.5,379.4 L69.0,379.5 L69.5,379.5 L70.0,379.5 L70.5,379.5 L71.0,379.5 L71.5,379.6 L72.0,379.6 L72.5,379.6 L73.0,379.6 L73.5,379.6 L74.0,379.7 L74.5,379.7 L75.0,379.7 L75.5,379.7 L76.0,379.8 L76.5,379.8 L77.0,379.8 L77.5,379.8 L78.0,379.9 L78.5,379.9 L79.0,379.9 L79.5,380.0 L80.0,380.0 L80.5,380.0 L81.0,380.1 L81.5,380.1 L82.0,380.1 L82.5,380.2 L83.0,380.2 L83.5,380.3 L84.0,380.3 L84.5,380.4 L85.0,380.4 L85.5,380.5 L86.0,380.5 L86.5,380.6 L87.0,380.6 L87.5,380.7 L88.0,380.8 L88.5,380.8 L89.0,380.9 L89.5,380.9 L90.0,381.0 L90.5,381.1 L91.0,381.1 L91.5,381.2 L92.0,381.3 L92.5,381.4 L93.0,381.4 L93.5,381.5 L94.0,381.6 L94.5,381.7 L95.0,381.8 L95.5,381.9 L96.0,381.9 L96.5,382.0 L97.0,382.1 L97.5,382.2 L98.0,382.3 L98.5,382.4 L99.0,382.5 L99.5,382.6 L100.0,382.7 L100.5,382.8 L101.0,382.9 L101.5,383.0 L102.0,383.1 L102.5,383.2 L103.0,383.3 L103.5,383.4 L104.0,383.5 L104.5,383.7 L105.0,383.8 L105.5,383.9 L106.0,384.0 L106.5,384.1 L107.0,384.3 L107.5,384.4 L108.0,384.5 L108.5,384.6 L109.0,384.7 L109.5,384.9 L110.0,385.0 L110.5,385.1 L111.0,385.3 L111.5,385.4 L112.0,385.5 L112.5,385.7 L113.0,385.8 L113.5,386.0 L114.0,386.1 L114.5,386.2 L115.0,386.4 L115.5,386.5 L116.0,386.7 L116.5,386.8 L117.0,387.0 L117.5,387.1 L118.0,387.3 L118.5,387.4 L119.0,387.5 L119.5,387.7 L120.0,387.8 L120.5,387.9 L121.0,388.1 L121.5,388.2 L122.0,388.3 L122.5,388.4 L123.0,388.6 L123.5,388.7 L124.0,388.8 L124.5,389.0 L125.0,389.1 L125.5,389.2 L126.0,389.3 L126.5,389.5 L127.0,389.6 L127.5,389.7 L128.0,389.8 L128.5,389.9 L129.0,390.1 L129.5,390.2 L130.0,390.3 L130.5,390.4 L131.0,390.5 L131.5,390.7 L132.0,390.8 L132.5,390.9 L133.0,391.0 L133.5,391.1 L134.0,391.2 L134.5,391.3 L135.0,391.5 L135.5,391.6 L136.0,391.7 L136.5,391.8 L137.0,391.9 L137.5,392.0 L138.0,392.1 L138.5,392.3 L139.0,392.4 L139.5,392.5 L140.0,392.6 L140.5,392.7 L141.0,392.8 L141.5,393.0 L142.0,393.1 L142.5,393.2 L143.0,393.4 L143.5,393.5 L144.0,393.6 L144.5,393.8 L145.0,393.9 L145.5,394.0 L146.0,394.2 L146.5,394.3 L147.0,394.4 L147.5,394.5 L148.0,394.6 L148.5,394.7 L149.0,394.8 L149.5,394.9 L150.0,395.0 L150.5,395.1 L151.0,395.1 L151.5,395.2 L152.0,395.3 L152.5,395.3 L153.0,395.4 L153.5,395.4 L154.0,395.5 L154.5,395.5 L155.0,395.6 L155.5,395.6 L156.0,395.7 L156.5,395.7 L157.0,395.8 L157.5,395.8 L158.0,395.8 L158.5,395.9 L159.0,395.9 L159.5,396.0 L160.0,396.0 L160.5,396.0 L161.0,396.1 L161.5,396.1 L162.0,396.1 L162.5,396.2 L163.0,396.2 L163.5,396.2 L164.0,396.3 L164.5,396.3 L165.0,396.3 L165.5,396.3 L166.0,396.4 L166.5,396.4 L167.0,396.4 L167.5,396.5 L168.0,396.5 L168.5,396.5 L169.0,396.5 L169.5,396.6 L170.0,396.6 L170.5,396.6 L171.0,396.7 L171.5,396.7 L172.0,396.7 L172.5,396.8 L173.0,396.8 L173.5,396.8 L174.0,396.9 L174.5,396.9 L175.0,396.9 L175.5,397.0 L176.0,397.0 L176.5,397.0 L177.0,397.1 L177.5,397.1 L178.0,397.1 L178.5,397.2 L179.0,397.2 L179.5,397.3 L180.0,397.3 L180.5,397.3 L181.0,397.4 L181.5,397.4 L182.0,397.5 L182.5,397.6 L183.0,397.6 L183.5,397.7 L184.0,397.7 L184.5,397.8 L185.0,397.9 L185.5,397.9 L186.0,398.0 L186.5,398.1 L187.0,398.1 L187.5,398.2 L188.0,398.3 L188.5,398.4 L189.0,398.4 L189.5,398.5 L190.0,398.6 L190.5,398.7 L191.0,398.8 L191.5,398.8 L192.0,398.9 L192.5,399.0 L193.0,399.1 L193.5,399.2 L194.0,399.3 L194.5,399.4 L195.0,399.5 L195.5,399.6 L196.0,399.7 L196.5,399.8 L197.0,399.9 L197.5,400.0 L198.0,400.1 L198.5,400.2 L199.0,400.3 L199.5,400.4 L200.0,400.5 L200.5,400.6 L201.0,400.7 L201.5,400.8 L202.0,400.9 L202.5,401.0 L203.0,401.1 L203.5,401.2 L204.0,401.3 L204.5,401.4 L205.0,401.5 L205.5,401.6 L206.0,401.7 L206.5,401.8 L207.0,401.9 L207.5,402.0 L208.0,402.1 L208.5,402.2 L209.0,402.3 L209.5,402.4 L210.0,402.5 L210.5,402.6 L211.0,402.7 L211.5,402.8 L212.0,402.9 L212.5,403.0 L213.0,403.1 L213.5,403.2 L214.0,403.2 L214.5,403.3 L215.0,403.4 L215.5,403.5 L216.0,403.6 L216.5,403.7 L217.0,403.8 L217.5,403.9 L218.0,404.0 L218.5,404.1 L219.0,404.2 L219.5,404.3 L220.0,404.3 L220.5,404.5 L221.0,404.6 L221.5,404.7 L222.0,404.8 L222.5,404.9 L223.0,405.0 L223.5,405.1 L224.0,405.2 L224.5,405.4 L225.0,405.5 L225.5,405.6 L226.0,405.8 L226.5,405.9 L227.0,406.1 L227.5,406.3 L228.0,406.4 L228.5,406.6 L229.0,406.8 L229.5,407.0 L230.0,407.2 L230.5,407.4 L231.0,407.6 L231.5,407.8 L232.0,408.0 L232.5,408.2 L233.0,408.4 L233.5,408.6 L234.0,408.8 L234.5,409.1 L235.0,409.3 L235.5,409.5 L236.0,409.8 L236.5,410.0 L237.0,410.3 L237.5,410.6 L238.0,410.8 L238.5,411.1 L239.0,411.4 L239.5,411.7 L240.0,412.0 L240.5,412.3 L241.0,412.6 L241.5,413.0 L242.0,413.3 L242.5,413.6 L243.0,414.0 L243.5,414.4 L244.0,414.7 L244.5,415.1 L245.0,415.5 L245.5,415.8 L246.0,416.2 L246.5,416.6 L247.0,416.9 L247.5,417.3 L248.0,417.6 L248.5,418.0 L249.0,418.3 L249.5,418.7 L250.0,419.0 L250.5,419.3 L251.0,419.6 L251.5,420.0 L252.0,420.3 L252.5,420.6 L253.0,420.9 L253.5,421.2 L254.0,421.5 L254.5,421.8 L255.0,422.2 L255.5,422.5 L256.0,422.8 L256.5,423.0 L257.0,423.3 L257.5,423.6 L258.0,423.9 L258.5,424.1 L259.0,424.4 L259.5,424.7 L260.0,424.9 L260.5,425.1 L261.0,425.4 L261.5,425.6 L262.0,425.8 L262.5,426.1 L263.0,426.3 L263.5,426.5 L264.0,426.7 L264.5,426.9 L265.0,427.1 L265.5,427.3 L266.0,427.5 L266.5,427.7 L267.0,427.9 L267.5,428.1 L268.0,428.3 L268.5,428.4 L269.0,428.6 L269.5,428.8 L270.0,428.9 L270.5,429.0 L271.0,429.2 L271.5,429.3 L272.0,429.5 L272.5,429.6 L273.0,429.8 L273.5,429.9 L274.0,430.0 L274.5,430.1 L275.0,430.3 L275.5,430.4 L276.0,430.5 L276.5,430.6 L277.0,430.7 L277.5,430.8 L278.0,430.9 L278.5,431.0 L279.0,431.1 L279.5,431.1 L280.0,431.2 L280.5,431.3 L281.0,431.3 L281.5,431.4 L282.0,431.4 L282.5,431.5 L283.0,431.5 L283.5,431.6 L284.0,431.6 L284.5,431.6 L285.0,431.7 L285.5,431.7 L286.0,431.7 L286.5,431.8 L287.0,431.8 L287.5,431.8 L288.0,431.9 L288.5,431.9 L289.0,431.9 L289.5,432.0 L290.0,432.0 L290.5,432.0 L291.0,432.1 L291.5,432.1 L292.0,432.1 L292.5,432.1 L293.0,432.2 L293.5,432.2 L294.0,432.2 L294.5,432.3 L295.0,432.3 L295.5,432.3 L296.0,432.3 L296.5,432.4 L297.0,432.4 L297.5,432.4 L298.0,432.4 L298.5,432.5 L299.0,432.5 L299.5,432.5 L300.0,432.5 L300.5,432.5 L301.0,432.6 L301.5,432.6 L302.0,432.6 L302.5,432.6 L303.0,432.6 L303.5,432.6 L304.0,432.7 L304.5,432.7 L305.0,432.7 L305.5,432.7" fill="none" stroke="#b4b4b4" stroke-width="0.9"/>
<g fill="none" stroke="#d8d8d8" stroke-width="0.8"><circle cx="33.5" cy="372.4" r="2.2"/><circle cx="36.0" cy="374.5" r="1.9"/><circle cx="39.0" cy="374.2" r="2.0"/><circle cx="41.7" cy="372.7" r="1.7"/><circle cx="44.9" cy="373.4" r="1.7"/><circle cx="48.3" cy="373.0" r="1.9"/><circle cx="50.9" cy="374.0" r="2.0"/><circle cx="54.0" cy="372.8" r="1.8"/><circle cx="56.5" cy="372.8" r="1.7"/><circle cx="59.0" cy="374.3" r="2.3"/><circle cx="61.4" cy="371.4" r="1.7"/><circle cx="64.6" cy="373.1" r="1.6"/><circle cx="67.6" cy="370.6" r="2.0"/><circle cx="70.7" cy="372.9" r="1.8"/><circle cx="74.0" cy="372.1" r="2.2"/><circle cx="76.2" cy="370.6" r="2.3"/><circle cx="79.0" cy="370.9" r="2.0"/><circle cx="82.3" cy="368.9" r="1.6"/><circle cx="84.6" cy="366.7" r="1.8"/><circle cx="88.2" cy="366.2" r="2.2"/><circle cx="91.1" cy="364.6" r="2.2"/><circle cx="94.6" cy="363.7" r="2.2"/><circle cx="97.0" cy="362.2" r="1.7"/><circle cx="99.6" cy="360.3" r="1.7"/><circle cx="102.2" cy="359.2" r="1.7"/><circle cx="104.8" cy="357.5" r="1.7"/><circle cx="107.4" cy="354.6" r="1.7"/><circle cx="110.0" cy="353.5" r="1.7"/><circle cx="112.6" cy="352.7" r="1.7"/><circle cx="115.2" cy="351.5" r="1.7"/><circle cx="117.8" cy="351.6" r="1.7"/><circle cx="120.4" cy="350.6" r="1.7"/><circle cx="123.0" cy="351.1" r="1.7"/><circle cx="125.6" cy="351.6" r="1.7"/><circle cx="128.2" cy="352.7" r="1.7"/><circle cx="130.8" cy="354.9" r="1.7"/><circle cx="133.4" cy="358.6" r="1.7"/><circle cx="136.0" cy="362.3" r="1.7"/><circle cx="138.6" cy="367.8" r="1.7"/><circle cx="141.2" cy="370.7" r="1.7"/><circle cx="143.8" cy="373.6" r="1.7"/><circle cx="146.4" cy="377.0" r="1.7"/><circle cx="149.0" cy="379.7" r="1.7"/><circle cx="151.6" cy="382.1" r="1.7"/><circle cx="154.2" cy="382.7" r="1.7"/><circle cx="156.8" cy="384.0" r="1.7"/><circle cx="159.4" cy="386.4" r="1.7"/><circle cx="162.0" cy="385.9" r="1.7"/><circle cx="164.6" cy="386.7" r="1.7"/><circle cx="167.2" cy="387.4" r="1.7"/><circle cx="169.8" cy="387.0" r="1.7"/><circle cx="172.4" cy="387.0" r="1.7"/><circle cx="175.0" cy="387.6" r="1.7"/><circle cx="177.6" cy="386.6" r="1.7"/><circle cx="180.2" cy="387.4" r="1.7"/><circle cx="182.8" cy="387.3" r="1.7"/><circle cx="185.4" cy="388.2" r="1.7"/><circle cx="188.0" cy="388.1" r="1.7"/><circle cx="190.6" cy="387.1" r="1.7"/><circle cx="193.2" cy="387.3" r="1.7"/><circle cx="195.8" cy="387.6" r="1.7"/><circle cx="198.4" cy="387.7" r="1.7"/><circle cx="201.0" cy="386.8" r="1.7"/><circle cx="203.6" cy="386.2" r="1.7"/><circle cx="206.2" cy="386.2" r="1.7"/><circle cx="208.8" cy="385.3" r="1.7"/><circle cx="211.4" cy="383.4" r="1.7"/><circle cx="214.0" cy="382.4" r="1.7"/><circle cx="216.6" cy="379.3" r="1.7"/><circle cx="219.2" cy="376.5" r="1.7"/><circle cx="221.8" cy="374.7" r="1.7"/><circle cx="224.4" cy="372.1" r="1.7"/><circle cx="227.0" cy="369.3" r="1.7"/><circle cx="229.6" cy="365.9" r="1.7"/><circle cx="232.2" cy="361.3" r="1.7"/><circle cx="234.8" cy="356.3" r="1.7"/><circle cx="237.4" cy="351.3" r="1.7"/><circle cx="240.0" cy="347.2" r="1.7"/><circle cx="242.6" cy="344.1" r="1.7"/><circle cx="245.2" cy="342.0" r="1.7"/><circle cx="247.8" cy="339.4" r="1.7"/><circle cx="250.4" cy="339.3" r="1.7"/><circle cx="253.0" cy="341.0" r="1.7"/><circle cx="255.6" cy="344.9" r="1.7"/><circle cx="258.2" cy="355.3" r="1.7"/><circle cx="260.8" cy="365.2" r="1.7"/><circle cx="263.4" cy="374.6" r="1.7"/><circle cx="266.0" cy="385.7" r="1.7"/><circle cx="268.6" cy="396.5" r="1.7"/><circle cx="271.2" cy="402.9" r="1.7"/><circle cx="273.8" cy="408.1" r="1.7"/><circle cx="276.4" cy="413.0" r="1.7"/><circle cx="279.0" cy="416.8" r="1.7"/><circle cx="281.6" cy="420.9" r="1.7"/><circle cx="284.2" cy="422.4" r="1.7"/><circle cx="286.8" cy="422.9" r="2.2"/><circle cx="290.1" cy="425.9" r="2.2"/><circle cx="292.4" cy="427.8" r="2.0"/><circle cx="295.0" cy="428.3" r="2.1"/><circle cx="298.6" cy="427.1" r="2.0"/><circle cx="301.5" cy="429.1" r="1.8"/><circle cx="303.7" cy="429.1" r="1.9"/></g>
<path d="M32.0,375.2 L32.5,375.2 L33.0,375.3 L33.5,375.3 L34.0,375.4 L34.5,375.4 L35.0,375.5 L35.5,375.5 L36.0,375.5 L36.5,375.5 L37.0,375.6 L37.5,375.6 L38.0,375.6 L38.5,375.6 L39.0,375.7 L39.5,375.7 L40.0,375.7 L40.5,375.7 L41.0,375.7 L41.5,375.7 L42.0,375.7 L42.5,375.8 L43.0,375.8 L43.5,375.8 L44.0,375.8 L44.5,375.8 L45.0,375.8 L45.5,375.8 L46.0,375.8 L46.5,375.8 L47.0,375.8 L47.5,375.8 L48.0,375.8 L48.5,375.8 L49.0,375.8 L49.5,375.8 L50.0,375.8 L50.5,375.8 L51.0,375.8 L51.5,375.8 L52.0,375.8 L52.5,375.7 L53.0,375.7 L53.5,375.7 L54.0,375.7 L54.5,375.6 L55.0,375.6 L55.5,375.5 L56.0,375.5 L56.5,375.5 L57.0,375.4 L57.5,375.4 L58.0,375.3 L58.5,375.3 L59.0,375.2 L59.5,375.1 L60.0,375.1 L60.5,375.0 L61.0,375.0 L61.5,374.9 L62.0,374.9 L62.5,374.8 L63.0,374.7 L63.5,374.7 L64.0,374.6 L64.5,374.6 L65.0,374.5 L65.5,374.4 L66.0,374.4 L66.5,374.3 L67.0,374.3 L67.5,374.2 L68.0,374.1 L68.5,374.1 L69.0,374.0 L69.5,374.0 L70.0,373.9 L70.5,373.8 L71.0,373.7 L71.5,373.7 L72.0,373.6 L72.5,373.5 L73.0,373.4 L73.5,373.4 L74.0,373.3 L74.5,373.2 L75.0,373.1 L75.5,373.0 L76.0,372.9 L76.5,372.8 L77.0,372.7 L77.5,372.6 L78.0,372.5 L78.5,372.4 L79.0,372.3 L79.5,372.1 L80.0,372.0 L80.5,371.9 L81.0,371.7 L81.5,371.5 L82.0,371.3 L82.5,371.1 L83.0,370.9 L83.5,370.6 L84.0,370.4 L84.5,370.1 L85.0,369.8 L85.5,369.5 L86.0,369.2 L86.5,369.0 L87.0,368.7 L87.5,368.4 L88.0,368.1 L88.5,367.8 L89.0,367.5 L89.5,367.3 L90.0,367.0 L90.5,366.7 L91.0,366.5 L91.5,366.2 L92.0,366.0 L92.5,365.8 L93.0,365.5 L93.5,365.3 L94.0,365.0 L94.5,364.8 L95.0,364.5 L95.5,364.3 L96.0,364.0 L96.5,363.8 L97.0,363.5 L97.5,363.2 L98.0,363.0 L98.5,362.7 L99.0,362.4 L99.5,362.1 L100.0,361.8 L100.5,361.5 L101.0,361.1 L101.5,360.8 L102.0,360.4 L102.5,360.0 L103.0,359.6 L103.5,359.2 L104.0,358.8 L104.5,358.4 L105.0,358.0 L105.5,357.7 L106.0,357.3 L106.5,356.9 L107.0,356.6 L107.5,356.3 L108.0,356.0 L108.5,355.7 L109.0,355.5 L109.5,355.3 L110.0,355.0 L110.5,354.8 L111.0,354.6 L111.5,354.4 L112.0,354.2 L112.5,354.0 L113.0,353.8 L113.5,353.6 L114.0,353.4 L114.5,353.2 L115.0,353.0 L115.5,352.8 L116.0,352.6 L116.5,352.5 L117.0,352.4 L117.5,352.3 L118.0,352.2 L118.5,352.2 L119.0,352.1 L119.5,352.0 L120.0,352.0 L120.5,351.9 L121.0,351.9 L121.5,351.9 L122.0,351.9 L122.5,352.0 L123.0,352.0 L123.5,352.1 L124.0,352.2 L124.5,352.4 L125.0,352.5 L125.5,352.7 L126.0,352.8 L126.5,353.0 L127.0,353.1 L127.5,353.3 L128.0,353.6 L128.5,353.8 L129.0,354.1 L129.5,354.4 L130.0,354.8 L130.5,355.1 L131.0,355.5 L131.5,356.0 L132.0,356.7 L132.5,357.6 L133.0,358.5 L133.5,359.3 L134.0,360.2 L134.5,361.1 L135.0,362.1 L135.5,363.0 L136.0,364.0 L136.5,364.9 L137.0,365.8 L137.5,366.7 L138.0,367.5 L138.5,368.3 L139.0,369.0 L139.5,369.7 L140.0,370.4 L140.5,371.1 L141.0,371.8 L141.5,372.4 L142.0,373.1 L142.5,373.7 L143.0,374.3 L143.5,374.9 L144.0,375.5 L144.5,376.1 L145.0,376.7 L145.5,377.3 L146.0,377.8 L146.5,378.4 L147.0,378.9 L147.5,379.4 L148.0,379.9 L148.5,380.4 L149.0,380.8 L149.5,381.2 L150.0,381.6 L150.5,381.9 L151.0,382.2 L151.5,382.5 L152.0,382.8 L152.5,383.1 L153.0,383.3 L153.5,383.6 L154.0,383.9 L154.5,384.2 L155.0,384.5 L155.5,384.9 L156.0,385.2 L156.5,385.6 L157.0,385.9 L157.5,386.2 L158.0,386.5 L158.5,386.7 L159.0,386.9 L159.5,387.0 L160.0,387.2 L160.5,387.3 L161.0,387.4 L161.5,387.5 L162.0,387.6 L162.5,387.6 L163.0,387.7 L163.5,387.8 L164.0,387.8 L164.5,387.8 L165.0,387.9 L165.5,387.9 L166.0,387.9 L166.5,388.0 L167.0,388.0 L167.5,388.0 L168.0,388.0 L168.5,388.1 L169.0,388.1 L169.5,388.1 L170.0,388.1 L170.5,388.1 L171.0,388.2 L171.5,388.2 L172.0,388.2 L172.5,388.2 L173.0,388.2 L173.5,388.2 L174.0,388.3 L174.5,388.3 L175.0,388.3 L175.5,388.3 L176.0,388.3 L176.5,388.3 L177.0,388.3 L177.5,388.3 L178.0,388.3 L178.5,388.4 L179.0,388.4 L179.5,388.4 L180.0,388.4 L180.5,388.4 L181.0,388.4 L181.5,388.5 L182.0,388.5 L182.5,388.5 L183.0,388.5 L183.5,388.6 L184.0,388.6 L184.5,388.6 L185.0,388.6 L185.5,388.7 L186.0,388.7 L186.5,388.7 L187.0,388.7 L187.5,388.8 L188.0,388.8 L188.5,388.8 L189.0,388.8 L189.5,388.8 L190.0,388.8 L190.5,388.8 L191.0,388.8 L191.5,388.8 L192.0,388.8 L192.5,388.8 L193.0,388.8 L193.5,388.8 L194.0,388.8 L194.5,388.8 L195.0,388.8 L195.5,388.8 L196.0,388.8 L196.5,388.7 L197.0,388.7 L197.5,388.6 L198.0,388.6 L198.5,388.5 L199.0,388.4 L199.5,388.4 L200.0,388.3 L200.5,388.2 L201.0,388.1 L201.5,388.0 L202.0,387.9 L202.5,387.8 L203.0,387.7 L203.5,387.5 L204.0,387.4 L204.5,387.3 L205.0,387.1 L205.5,387.0 L206.0,386.8 L206.5,386.6 L207.0,386.5 L207.5,386.3 L208.0,386.1 L208.5,385.9 L209.0,385.7 L209.5,385.5 L210.0,385.3 L210.5,385.0 L211.0,384.8 L211.5,384.5 L212.0,384.3 L212.5,384.0 L213.0,383.7 L213.5,383.3 L214.0,383.0 L214.5,382.6 L215.0,382.1 L215.5,381.7 L216.0,381.2 L216.5,380.7 L217.0,380.2 L217.5,379.8 L218.0,379.3 L218.5,378.8 L219.0,378.4 L219.5,377.9 L220.0,377.5 L220.5,377.0 L221.0,376.5 L221.5,376.0 L222.0,375.5 L222.5,375.0 L223.0,374.5 L223.5,374.0 L224.0,373.4 L224.5,372.8 L225.0,372.3 L225.5,371.7 L226.0,371.1 L226.5,370.5 L227.0,369.9 L227.5,369.2 L228.0,368.6 L228.5,367.9 L229.0,367.2 L229.5,366.5 L230.0,365.7 L230.5,364.9 L231.0,364.1 L231.5,363.2 L232.0,362.3 L232.5,361.4 L233.0,360.5 L233.5,359.6 L234.0,358.6 L234.5,357.6 L235.0,356.6 L235.5,355.6 L236.0,354.6 L236.5,353.7 L237.0,352.8 L237.5,351.9 L238.0,351.1 L238.5,350.2 L239.0,349.5 L239.5,348.7 L240.0,348.0 L240.5,347.3 L241.0,346.7 L241.5,346.0 L242.0,345.4 L242.5,344.9 L243.0,344.3 L243.5,343.8 L244.0,343.4 L244.5,343.0 L245.0,342.6 L245.5,342.1 L246.0,341.7 L246.5,341.4 L247.0,341.1 L247.5,340.8 L248.0,340.7 L248.5,340.6 L249.0,340.6 L249.5,340.7 L250.0,340.9 L250.5,341.1 L251.0,341.3 L251.5,341.5 L252.0,341.8 L252.5,342.1 L253.0,342.5 L253.5,343.0 L254.0,343.6 L254.5,344.2 L255.0,345.0 L255.5,346.1 L256.0,347.8 L256.5,349.8 L257.0,351.9 L257.5,354.1 L258.0,356.0 L258.5,357.8 L259.0,359.5 L259.5,361.2 L260.0,363.0 L260.5,364.8 L261.0,366.7 L261.5,368.5 L262.0,370.5 L262.5,372.6 L263.0,374.7 L263.5,376.9 L264.0,379.0 L264.5,381.0 L265.0,383.1 L265.5,385.0 L266.0,387.0 L266.5,389.0 L267.0,391.1 L267.5,393.1 L268.0,395.1 L268.5,396.9 L269.0,398.5 L269.5,399.9 L270.0,401.3 L270.5,402.6 L271.0,403.9 L271.5,405.1 L272.0,406.2 L272.5,407.3 L273.0,408.3 L273.5,409.3 L274.0,410.3 L274.5,411.2 L275.0,412.1 L275.5,413.0 L276.0,413.8 L276.5,414.7 L277.0,415.5 L277.5,416.3 L278.0,417.1 L278.5,417.8 L279.0,418.5 L279.5,419.2 L280.0,419.8 L280.5,420.4 L281.0,421.0 L281.5,421.5 L282.0,422.0 L282.5,422.5 L283.0,422.9 L283.5,423.4 L284.0,423.8 L284.5,424.2 L285.0,424.6 L285.5,425.0 L286.0,425.4 L286.5,425.8 L287.0,426.1 L287.5,426.4 L288.0,426.7 L288.5,427.0 L289.0,427.3 L289.5,427.5 L290.0,427.8 L290.5,428.0 L291.0,428.2 L291.5,428.4 L292.0,428.6 L292.5,428.7 L293.0,428.9 L293.5,429.1 L294.0,429.2 L294.5,429.4 L295.0,429.5 L295.5,429.7 L296.0,429.8 L296.5,429.9 L297.0,430.1 L297.5,430.2 L298.0,430.3 L298.5,430.4 L299.0,430.5 L299.5,430.6 L300.0,430.7 L300.5,430.8 L301.0,430.8 L301.5,430.9 L302.0,431.0 L302.5,431.1 L303.0,431.1 L303.5,431.2 L304.0,431.3 L304.5,431.3 L305.0,431.4 L305.5,431.4" fill="none" stroke="#b0b0b0" stroke-width="1"/>
<path d="M138.0,367.5 L138.5,368.3 L139.0,369.0 L139.5,369.7 L140.0,370.4 L140.5,371.1 L141.0,371.8 L141.5,372.4 L142.0,373.1 L142.5,373.7 L143.0,374.3 L143.5,374.9 L144.0,375.5 L144.5,376.1 L145.0,376.7 L145.5,377.3 L146.0,377.8 L146.5,378.4 L147.0,378.9 L147.5,379.4 L148.0,379.9 L148.5,380.4 L149.0,380.8 L149.5,381.2 L150.0,381.6 L150.5,381.9 L151.0,382.2 L151.5,382.5 L152.0,382.8 L152.5,383.1 L153.0,383.3 L153.5,383.6 L154.0,383.9 L154.5,384.2 L155.0,384.5 L155.5,384.9 L156.0,385.2 L156.5,385.6 L157.0,385.9 L157.5,386.2 L158.0,386.5 L158.5,386.7 L159.0,386.9 L159.5,387.0 L160.0,387.2 L160.5,387.3 L161.0,387.4 L161.5,387.5 L162.0,387.6 L162.5,387.6 L163.0,387.7 L163.5,387.8 L164.0,387.8 L164.5,387.8 L165.0,387.9 L165.5,387.9 L166.0,387.9 L166.5,388.0 L167.0,388.0 L167.5,388.0 L168.0,388.0 L168.5,388.1 L169.0,388.1 L169.5,388.1 L170.0,388.1 L170.5,388.1 L171.0,388.2 L171.5,388.2 L172.0,388.2 L172.5,388.2 L173.0,388.2 L173.5,388.2 L174.0,388.3 L174.5,388.3 L175.0,388.3 L175.5,388.3 L176.0,388.3 L176.5,388.3 L177.0,388.3 L177.5,388.3 L178.0,388.3 L178.5,388.4 L179.0,388.4 L179.5,388.4 L180.0,388.4 L180.5,388.4 L181.0,388.4 L181.5,388.5 L182.0,388.5 L182.5,388.5 L183.0,388.5 L183.5,388.6 L184.0,388.6 L184.5,388.6 L185.0,388.6 L185.5,388.7 L186.0,388.7 L186.5,388.7 L187.0,388.7 L187.5,388.8 L188.0,388.8 L188.5,388.8 L189.0,388.8 L189.5,388.8 L190.0,388.8 L190.5,388.8 L191.0,388.8 L191.5,388.8 L192.0,388.8 L192.5,388.8 L193.0,388.8 L193.5,388.8 L194.0,388.8 L194.5,388.8 L195.0,388.8 L195.5,388.8 L196.0,388.8 L196.5,388.7 L197.0,388.7 L197.5,388.6 L198.0,388.6 L198.5,388.5 L199.0,388.4 L199.5,388.4 L200.0,388.3 L200.5,388.2 L201.0,388.1 L201.5,388.0 L202.0,387.9 L202.5,387.8 L203.0,387.7 L203.5,387.5 L204.0,387.4 L204.5,387.3 L205.0,387.1 L205.5,387.0 L206.0,386.8 L206.5,386.6 L207.0,386.5 L207.5,386.3 L208.0,386.1 L208.5,385.9 L209.0,385.7 L209.5,385.5 L210.0,385.3 L210.5,385.0 L211.0,384.8 L211.5,384.5 L212.0,384.3 L212.5,384.0 L213.0,383.7 L213.5,383.3 L214.0,383.0 L214.5,382.6 L215.0,382.1 L215.5,381.7 L216.0,381.2 L216.5,380.7 L217.0,380.2 L217.5,379.8 L218.0,379.3 L218.5,378.8 L219.0,378.4 L219.5,377.9 L220.0,377.5 L220.5,377.0 L221.0,376.5 L221.5,376.0 L222.0,375.5 L222.5,375.0 L223.0,374.5 L223.5,374.0 L224.0,373.4 L224.5,372.8 L225.0,372.3 L225.5,371.7 L226.0,371.1 L226.5,370.5 L227.0,369.9 L227.5,369.2 L228.0,368.6 L228.5,367.9 L229.0,367.2 L229.5,366.5 L230.0,365.7 L230.5,364.9 L231.0,364.1 L231.5,363.2 L232.0,362.3" fill="none" stroke="#8a8a8a" stroke-width="1.1"/>
<rect x="32" y="285.7" width="273.4" height="190.6" fill="none" stroke="#111" stroke-width="1.5"/>
<g stroke="#111" stroke-width="1.2"><line x1="32.1" y1="476" x2="32.1" y2="472" /><line x1="55.7" y1="476" x2="55.7" y2="474" /><line x1="79.2" y1="476" x2="79.2" y2="472" /><line x1="102.8" y1="476" x2="102.8" y2="474" /><line x1="126.4" y1="476" x2="126.4" y2="472" /><line x1="150.0" y1="476" x2="150.0" y2="474" /><line x1="173.5" y1="476" x2="173.5" y2="472" /><line x1="197.1" y1="476" x2="197.1" y2="474" /><line x1="220.7" y1="476" x2="220.7" y2="472" /><line x1="244.3" y1="476" x2="244.3" y2="474" /><line x1="267.9" y1="476" x2="267.9" y2="472" /><line x1="291.4" y1="476" x2="291.4" y2="474" /></g>
<g font-size="10" font-weight="bold" fill="#111" stroke="#111" stroke-width="0.15" text-anchor="middle"><text x="32.1" y="489">735</text><text x="79.2" y="489">730</text><text x="126.4" y="489">725</text><text x="173.5" y="489">720</text><text x="220.7" y="489">715</text><text x="267.9" y="489">710</text></g>
<text transform="translate(36,297.9) scale(1,1.05)" font-size="10" font-weight="bold" fill="#111" stroke="#111" stroke-width="0.2">Fe 2p</text>
<text transform="translate(22.7,413.3) rotate(-90)" font-size="11" font-weight="bold" fill="#111" stroke="#111" stroke-width="0.2">Intensity(a.u.)</text>
<text transform="translate(168.6,507.1) scale(1,1.1)" font-size="11" font-weight="bold" fill="#111" stroke="#111" stroke-width="0.2" text-anchor="middle">Binding Energy(eV)</text>
<g font-size="9" font-weight="bold" fill="#111" stroke="#111" stroke-width="0.25">
<text transform="translate(107.6,330.9) scale(0.93,1.1)">Fe<tspan font-size="5.5" dy="-3.2">3+</tspan><tspan dy="3.2"> 2p</tspan><tspan font-size="6" dy="2.2">1/2</tspan></text>
<text transform="translate(107.2,344.1) scale(0.94,1.1)">(Fe<tspan font-size="6" dy="2">2</tspan><tspan dy="-2">O</tspan><tspan font-size="6" dy="2">3</tspan><tspan dy="-2">)</tspan></text>
<text transform="translate(236.6,318.9) scale(0.93,1.1)">Fe<tspan font-size="5.5" dy="-3.2">3+</tspan><tspan dy="3.2"> 2p</tspan><tspan font-size="6" dy="2.2">3/2</tspan></text>
<text transform="translate(236.3,331.2) scale(0.94,1.1)">(Fe<tspan font-size="6" dy="2">2</tspan><tspan dy="-2">O</tspan><tspan font-size="6" dy="2">3</tspan><tspan dy="-2">)</tspan></text>
</g>
<text transform="translate(174.4,381.6) scale(0.95,1.03)" font-size="9.5" font-weight="bold" fill="#111" stroke="#111" stroke-width="0.2">Sat.</text>
</svg>
</body></html>
